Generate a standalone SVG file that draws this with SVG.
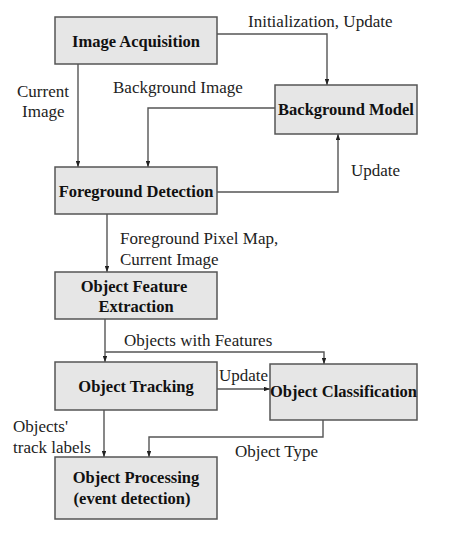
<svg xmlns="http://www.w3.org/2000/svg" width="474" height="539" viewBox="0 0 474 539">
<defs>
<marker id="ah" viewBox="0 0 8 6" refX="8" refY="3" markerWidth="6" markerHeight="4.5" orient="auto" markerUnits="userSpaceOnUse">
<path d="M0,0 L8,3 L0,6 z" fill="#222"/>
</marker>
<style>
.node rect{fill:#e6e6e6;stroke:#555;stroke-width:1.5}
.node text{font-family:"Liberation Serif","Times New Roman",serif;font-weight:bold;font-size:16.5px;fill:#111;text-anchor:middle}
.lbl{font-family:"Liberation Serif","Times New Roman",serif;font-size:17px;fill:#222}
#connectors path{fill:none;stroke:#555;stroke-width:1.4;marker-end:url(#ah)}
</style>
</defs>
<rect width="474" height="539" fill="#fff"/>
<g id="connectors">
<path d="M217,34 H327 V85"/>
<path d="M78,64 V167"/>
<path d="M275,108 H148 V167"/>
<path d="M217,192 H338 V134"/>
<path d="M107,214 V272"/>
<path d="M105,319 V362"/>
<path d="M105,352 H324 V364"/>
<path d="M217,389 H270"/>
<path d="M104,410 V457"/>
<path d="M323,420 V437 H149 V457"/>
</g>
<g id="image-acquisition" class="node"><rect x="55" y="17" width="162" height="47"/><text x="136" y="47">Image Acquisition</text></g>
<g id="background-model" class="node"><rect x="275" y="85" width="142" height="49"/><text x="346" y="115">Background Model</text></g>
<g id="foreground-detection" class="node"><rect x="55" y="167" width="162" height="47"/><text x="136" y="197">Foreground Detection</text></g>
<g id="object-feature-extraction" class="node"><rect x="55" y="272" width="162" height="47"/><text x="134" y="292">Object Feature</text><text x="136" y="312">Extraction</text></g>
<g id="object-tracking" class="node"><rect x="55" y="362" width="162" height="48"/><text x="136" y="392">Object Tracking</text></g>
<g id="object-classification" class="node"><rect x="270" y="364" width="147" height="56"/><text x="343.5" y="397">Object Classification</text></g>
<g id="object-processing" class="node"><rect x="55" y="457" width="162" height="62"/><text x="136" y="483">Object Processing</text><text x="132" y="504">(event detection)</text></g>
<g id="labels">
<text class="lbl" x="248" y="27">Initialization, Update</text>
<text class="lbl" x="17" y="97">Current</text>
<text class="lbl" x="22" y="117">Image</text>
<text class="lbl" x="113" y="93">Background Image</text>
<text class="lbl" x="351" y="176">Update</text>
<text class="lbl" x="120" y="244">Foreground Pixel Map,</text>
<text class="lbl" x="120" y="265">Current Image</text>
<text class="lbl" x="124" y="346">Objects with Features</text>
<text class="lbl" x="219" y="381">Update</text>
<text class="lbl" x="13" y="432">Objects'</text>
<text class="lbl" x="13" y="453">track labels</text>
<text class="lbl" x="235" y="457">Object Type</text>
</g>
</svg>
